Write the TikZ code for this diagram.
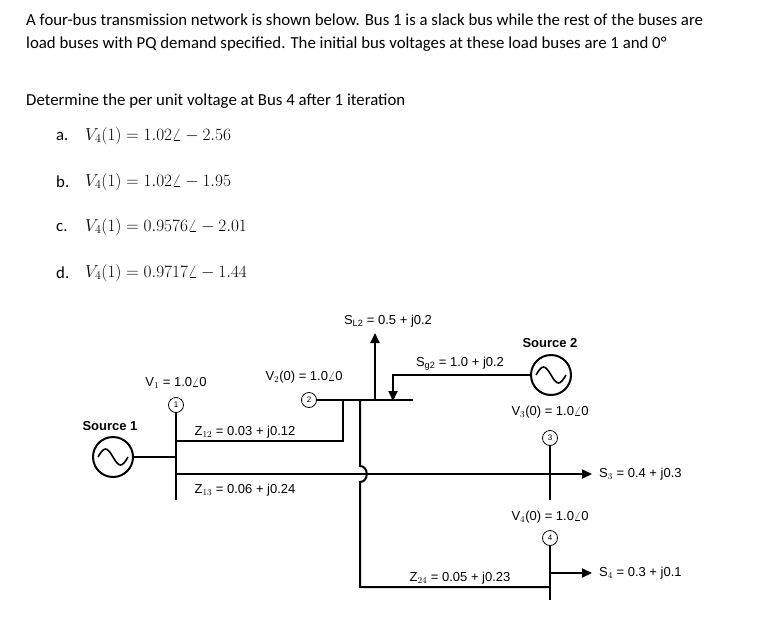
\documentclass[tikz,border=0pt]{standalone}
\usepackage{amsmath}
\usepackage{fontspec}
\setmainfont{Carlito}
\newfontfamily\arialf{Liberation Sans}
\usetikzlibrary{arrows.meta}
\begin{document}
\begin{tikzpicture}[x=1pt,y=-1pt,
  wire/.style={line width=2pt},
  busnum/.style={circle,draw,line width=0.8pt,minimum size=15pt,inner sep=0pt,font=\arialf\fontsize{8}{9}\selectfont},
  src/.style={circle,draw,line width=2pt,minimum size=40pt,inner sep=0pt},
  lbl/.style={font=\arialf\fontsize{13}{15}\selectfont,inner sep=1pt},
  blbl/.style={font=\arialf\bfseries\fontsize{13}{15}\selectfont,inner sep=1pt},
  qtext/.style={anchor=west,font=\fontsize{16.8}{19}\selectfont,inner sep=0pt},
  otext/.style={anchor=west,font=\fontsize{17.5}{20}\selectfont,inner sep=0pt},
  arr/.style={wire,-{Triangle[length=10pt,width=9pt]}}]
\useasboundingbox (0,0) rectangle (758,635);
% question text
\node[qtext] (t1) at (26,20) {A four-bus transmission network is shown below. Bus 1 is a slack bus while the rest of the buses are};
\node[qtext] (t2) at (26,44) {load buses with PQ demand specified. The initial bus voltages at these load buses are 1 and 0°};
\node[qtext] (t3) at (26,101) {Determine the per unit voltage at Bus 4 after 1 iteration};
\node[qtext] (la) at (56,136) {a.};
\node[qtext] (lb) at (56,182) {b.};
\node[qtext] (lc) at (56,227) {c.};
\node[qtext] (ld) at (56,273) {d.};
\node[otext] (oa) at (85,136) {$V_4(1) = 1.02\angle -2.56$};
\node[otext] (ob) at (85,182) {$V_4(1) = 1.02\angle -1.95$};
\node[otext] (oc) at (85,227) {$V_4(1) = 0.9576\angle -2.01$};
\node[otext] (od) at (85,273) {$V_4(1) = 0.9717\angle -1.44$};
% sources
\node[src] (s1) at (113,457) {};
\draw[line width=1.6pt] (98,457) sin (105.5,449) cos (113,457) sin (120.5,465) cos (128,457);
\node[src] (s2) at (551,375) {};
\draw[line width=1.6pt] (536,375) sin (543.5,367) cos (551,375) sin (558.5,383) cos (566,375);
\node[blbl] (s1l) at (110,426) {Source 1};
\node[blbl] (s2l) at (550,343) {Source 2};
% bus numbers
\node[busnum] (b1) at (176,405) {1};
\node[busnum] (b2) at (309,400) {2};
\node[busnum] (b3) at (550,438) {3};
\node[busnum] (b4) at (550,538) {4};
\coordinate (b1bot) at (176,500);
\coordinate (b2end) at (413,400);
\coordinate (b3bot) at (550,500);
\coordinate (b4bot) at (550,600);
% buses
\draw[wire] (b1) -- (b1bot);
\draw[wire] (b2) -- (b2end);
\draw[wire] (b3) -- (b3bot);
\draw[wire] (b4) -- (b4bot);
\draw[wire] (s1) -- (176,457);
% z12
\draw[wire] (176,441) -- (343,441) -- (343,400);
% line 2-4 with jump
\draw[wire] (360,400) -- (360,466) .. controls (369,466) and (369,482) .. (360,482) -- (360,587) -- (550,587);
% z13 / S3
\draw[arr] (176,474) -- (592,474);
% SL2
\draw[arr] (375,400) -- (375,333);
% Sg2
\draw[arr] (s2) -- (393,375) -- (393,401);
% S4
\draw[arr] (550,573) -- (592,573);
% labels
\node[lbl] at (176,383) {V$_1$ = 1.0$\angle$0};
\node[lbl] at (304,377) {V$_2$(0) = 1.0$\angle$0};
\node[lbl] at (550,412) {V$_3$(0) = 1.0$\angle$0};
\node[lbl] at (550,517) {V$_4$(0) = 1.0$\angle$0};
\node[lbl] at (388,321) {S$_{\text{L2}}$ = 0.5 + j0.2};
\node[lbl] at (460,364) {S$_{\text{g2}}$ = 1.0 + j0.2};
\node[lbl] at (245,432) {Z$_{12}$ = 0.03 + j0.12};
\node[lbl] at (245,490) {Z$_{13}$ = 0.06 + j0.24};
\node[lbl] at (460,578) {Z$_{24}$ = 0.05 + j0.23};
\node[lbl,anchor=west] at (598,474) {S$_3$ = 0.4 + j0.3};
\node[lbl,anchor=west] at (598,573) {S$_4$ = 0.3 + j0.1};
\end{tikzpicture}
\end{document}
